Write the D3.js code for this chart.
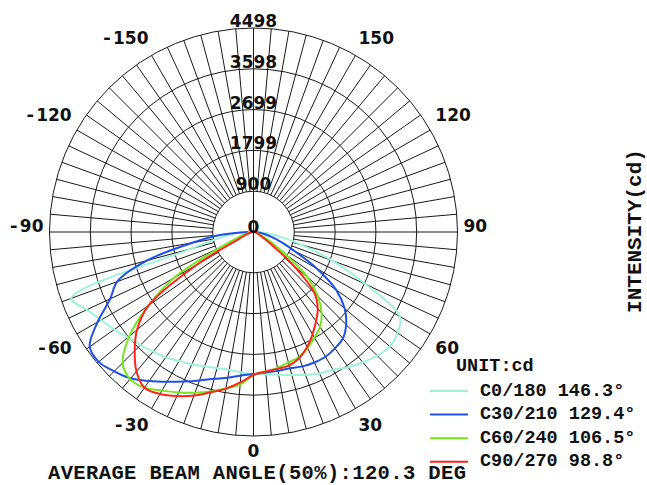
<!DOCTYPE html>
<html><head><meta charset="utf-8">
<script src="https://cdn.jsdelivr.net/npm/d3@7"></script>
<style>html,body{margin:0;padding:0;background:#fff;}svg{display:block;}</style>
</head><body>
<svg id="chart" width="647" height="485"></svg>
<script>
// ---- data ----
const gammaAngles = d3.range(-90, 91, 5); // -90 .. 90 (0 = nadir, negative = left half)
const seriesNames = ["C0/180 146.3°", "C30/210 129.4°", "C60/240 106.5°", "C90/270 98.8°"];
const seriesColors = ["#9ef2d8", "#1f4fe8", "#72e61e", "#ff2418"];
const c0Values = [110,397,772,1411,4278,4057,3881,3749,3616,3528,3440,3374,3285,3219,3153,3109,3087,3109,3131,3153,3197,3263,3352,3440,3506,3638,3749,3859,3925,3881,3726,2734,1852,1103,617,265,66];
const c30Values = [110,706,1367,2426,3197,3484,3969,4410,4454,4344,4212,4013,3815,3638,3484,3352,3263,3175,3131,3109,3109,3109,3153,3175,3175,3131,3065,2889,2624,2227,1610,1014,662,397,221,110,44];
const c60Values = [22,66,110,198,353,838,2029,2822,3572,4079,4234,4190,4035,3903,3771,3638,3506,3374,3153,3087,3043,2977,2933,2822,2690,2558,2337,2007,1566,882,441,221,132,88,44,22,0];
const c90Values = [0,22,44,88,176,331,1433,2822,3352,3704,4013,4190,4123,3991,3837,3660,3506,3330,3153,3087,3065,3043,2955,2800,2602,2403,2205,1896,1147,485,221,132,88,66,44,22,0];
const ringTicks = [0, 900, 1799, 2699, 3598, 4498];
const angleTicks = [0, 30, 60, 90, 120, 150, -150, -120, -90, -60, -30];
const unitLabel = "UNIT:cd";
const axisTitle = "INTENSITY(cd)";
const footer = "AVERAGE BEAM ANGLE(50%):120.3 DEG";

// ---- layout ----
const cx = 253.5, cy = 232, R = 204;
const svg = d3.select("#chart");
const r = d3.scaleLinear().domain([0, 4498]).range([0, R]);
const toRad = g => g * Math.PI / 180;
const g0 = svg.append("g").attr("transform", `translate(${cx},${cy})`);

// grid
const grid = g0.append("g").attr("stroke", "#1a1a1a").attr("stroke-width", 1).attr("fill", "none");
ringTicks.slice(1).forEach(t => grid.append("circle").attr("r", r(t)));
d3.range(-175, 181, 5).forEach(a => {
  const s = Math.sin(toRad(a)), c = Math.cos(toRad(a));
  grid.append("line")
    .attr("x1", r(ringTicks[1]) * s).attr("y1", r(ringTicks[1]) * c)
    .attr("x2", R * s).attr("y2", R * c);
});
grid.append("line").attr("x1", 0).attr("y1", -R).attr("x2", 0).attr("y2", R);

// curves
const allSeries = [c0Values, c30Values, c60Values, c90Values];
const line = d3.lineRadial()
  .angle(d => Math.PI - toRad(d[0]))
  .radius(d => r(d[1]))
  .curve(d3.curveCatmullRom.alpha(0.5));
allSeries.forEach((vals, i) => {
  g0.append("path")
    .datum(gammaAngles.map((a, k) => [a, vals[k]]))
    .attr("d", line)
    .attr("fill", "none")
    .attr("stroke", seriesColors[i])
    .attr("stroke-width", 2)
    .attr("stroke-linejoin", "round");
});

// ring labels
const labelFont = "DejaVu Sans, sans-serif";
ringTicks.forEach(t => {
  g0.append("text")
    .attr("x", 0)
    .attr("y", t === 0 ? 1 : -r(t) - 1)
    .attr("text-anchor", "middle")
    .attr("font-family", labelFont).attr("font-weight", "bold").attr("font-size", 17)
    .attr("fill", "#111")
    .text(String(t));
});

// angle labels
const LR = R + 6;
angleTicks.forEach(a => {
  const s = Math.sin(toRad(a)), c = Math.cos(toRad(a));
  const px = LR * s, py = LR * c;
  const anchor = s > 0.01 ? "start" : (s < -0.01 ? "end" : "middle");
  const by = c > 0.99 ? py + 15 : (c > 0.01 ? py + 17 : (c < -0.01 ? py - 6 : py));
  const t = g0.append("text")
    .attr("x", px).attr("y", by)
    .attr("text-anchor", anchor)
    .attr("font-family", labelFont).attr("font-weight", "bold").attr("font-size", 17)
    .attr("fill", "#111");
  if (a < 0) {
    t.append("tspan").attr("font-family", "Liberation Mono, monospace").attr("font-size", 20).text("-");
    t.append("tspan").text(String(-a));
  } else {
    t.text(String(a));
  }
});

// legend
const mono = "Liberation Mono, Courier New, monospace";
svg.append("text").attr("x", 456).attr("y", 371)
  .attr("font-family", mono).attr("font-weight", "bold").attr("font-size", 18.5).attr("fill", "#111")
  .text(unitLabel);
seriesNames.forEach((n, i) => {
  const by = 395.5 + i * 23.6;
  svg.append("line").attr("x1", 430).attr("x2", 468).attr("y1", by - 4.5).attr("y2", by - 4.5)
    .attr("stroke", seriesColors[i]).attr("stroke-width", 2);
  svg.append("text").attr("x", 480).attr("y", by)
    .attr("font-family", mono).attr("font-weight", "bold").attr("font-size", 18.5).attr("fill", "#111")
    .text(n);
});

// titles
svg.append("text").attr("x", 48).attr("y", 478.5)
  .attr("font-family", mono).attr("font-weight", "bold").attr("font-size", 20.5).attr("fill", "#111")
  .attr("textLength", 418).attr("lengthAdjust", "spacing")
  .text(footer);
svg.append("text").attr("transform", "translate(641,231) rotate(-90)")
  .attr("text-anchor", "middle")
  .attr("font-family", mono).attr("font-weight", "bold").attr("font-size", 21).attr("fill", "#111")
  .text(axisTitle);
</script>
</body></html>
